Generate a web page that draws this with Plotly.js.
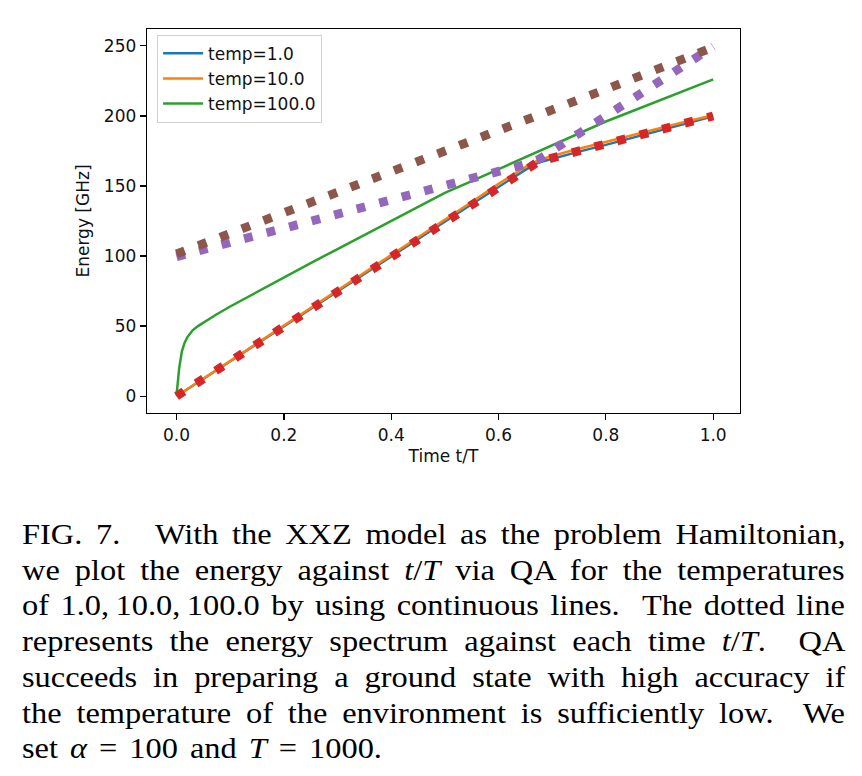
<!DOCTYPE html>
<html>
<head>
<meta charset="utf-8">
<script src="https://cdn.plot.ly/plotly-3.0.1.min.js"></script>
<style>
  html, body { margin: 0; padding: 0; background: #fff; }
  #wrap { position: relative; width: 862px; height: 776px; overflow: hidden; }
  #chart { position: absolute; left: 0; top: 0; width: 862px; height: 776px; }
  #caption { position: absolute; left: 22px; top: 516px; width: 762px;
    transform: scaleX(1.08); transform-origin: left top;
    font-family: "Liberation Serif", "DejaVu Serif", serif; font-size: 30px; line-height: 35.7px; color: #000; }
  #caption .ln { white-space: nowrap; }
  #caption .t { display: inline-block; white-space: nowrap; }
  #caption i { font-style: italic; }
</style>
</head>
<body>
<div id="wrap">
  <div id="chart"></div>
  <div id="caption">
    <div class="ln"><span class="t" data-w="823">FIG. 7.<span style="display:inline-block;width:20px"></span> With the XXZ model as the problem Hamiltonian,</span></div>
    <div class="ln"><span class="t" data-w="823">we plot the energy against <i>t</i>/<i>T</i> via QA for the temperatures</span></div>
    <div class="ln"><span class="t" data-w="823">of 1.0,&thinsp;10.0,&thinsp;100.0 by using continuous lines.&nbsp; The dotted line</span></div>
    <div class="ln"><span class="t" data-w="823">represents the energy spectrum against each time <i>t</i>/<i>T</i>.&nbsp; QA</span></div>
    <div class="ln"><span class="t" data-w="823">succeeds in preparing a ground state with high accuracy if</span></div>
    <div class="ln"><span class="t" data-w="823">the temperature of the environment is sufficiently low.&nbsp; We</span></div>
    <div class="ln"><span class="t" data-w="360">set <i>α</i> = 100 and <i>T</i> = 1000.</span></div>
  </div>
</div>
<script>
// ---- data ----
const tSolid = [0,0.05,0.1,0.15,0.2,0.25,0.3,0.35,0.4,0.45,0.5,0.55,0.6,0.625,0.65,0.675,0.7,0.725,0.75,0.8,0.85,0.9,0.95,1.0];
const temp1 = [0,12.5,25,37.5,50,62.5,75,87.5,100,112.5,125,137,149.3,155.3,161.5,166.8,169.5,172,174.5,179.3,184.3,189.4,194.6,199.7];
const temp10 = [0,12.6,25.2,37.8,50.3,62.9,75.4,88,100.5,113,125.6,138.5,151.5,157.5,163.5,168.5,171.5,174,176.5,181.5,186.5,191.5,196,200.5];
const tGreen = [0,0.005,0.01,0.015,0.02,0.03,0.04,0.05,0.075,0.1,0.15,0.2,0.25,0.3,0.35,0.4,0.45,0.5,0.55,0.6,0.65,0.7,0.75,0.8,0.85,0.9,0.95,1.0];
const temp100 = [0.5,20,32,38,42,47,50,52.5,58.5,64,74.5,84.5,95,105,115,125,135,145,153.5,162,171,179.5,188,196,203.5,211,218.5,226];
const ground = [0,12.5,25,37.5,50,62.5,75,87.5,100,112.5,125,137.5,150,156,162.5,167.5,170,172.5,175,180,185,190,195,200];
const tExc1 = [0,0.05,0.1,0.15,0.2,0.25,0.3,0.35,0.4,0.45,0.5,0.55,0.6,0.65,0.675,0.7,0.725,0.75,0.8,0.85,0.9,0.95,1.0];
const excited1 = [99.5,104.5,110,115,120,125.5,130.5,135.5,140.5,145.5,150.5,155.5,160.5,165.5,169,176,181.5,187.5,199.5,212,224.5,237,249.5];
const tExc2 = [0,0.1,0.2,0.3,0.4,0.5,0.6,0.7,0.8,0.9,1.0];
const excited2 = [101.5,116,131,145.5,160.5,175,190,204.5,219,234,249];
const legendNames = ['temp=1.0','temp=10.0','temp=100.0'];
const xTicks = [0,0.2,0.4,0.6,0.8,1.0];
const yTicks = [0,50,100,150,200,250];

const C = {blue:'#1f77b4', orange:'#ff7f0e', green:'#2ca02c', red:'#d62728', purple:'#9467bd', brown:'#8c564b'};
const solidW = 2.5, dotW = 8.8, dotDash = '8.8px,14.5px';
const FONT = 'DejaVu Sans', FS = 17;

const traces = [
  {x:tSolid, y:temp1, name:legendNames[0], mode:'lines', line:{color:C.blue, width:solidW}},
  {x:tSolid, y:temp10, name:legendNames[1], mode:'lines', line:{color:C.orange, width:solidW}},
  {x:tGreen, y:temp100, name:legendNames[2], mode:'lines', line:{color:C.green, width:solidW}},
  {x:tSolid, y:ground, mode:'lines', showlegend:false, line:{color:C.red, width:dotW, dash:dotDash}},
  {x:tExc1, y:excited1, mode:'lines', showlegend:false, line:{color:C.purple, width:dotW, dash:dotDash}},
  {x:tExc2, y:excited2, mode:'lines', showlegend:false, line:{color:C.brown, width:dotW, dash:dotDash}}
];

const axisCommon = {showline:true, mirror:true, linecolor:'#000', linewidth:1.3, ticks:'outside', ticklen:6, tickwidth:1.3,
  tickcolor:'#000', showgrid:false, zeroline:false, tickfont:{family:FONT, size:FS, color:'#111'}};

const layout = {
  width:862, height:776,
  margin:{l:147, r:122, t:29, b:363},
  paper_bgcolor:'#fff', plot_bgcolor:'#fff',
  font:{family:FONT, size:FS, color:'#111'},
  showlegend:true,
  legend:{x:0.017, y:0.985, xanchor:'left', yanchor:'top', bgcolor:'#fff', bordercolor:'#d0d0d0', borderwidth:1,
    font:{family:FONT, size:FS, color:'#111'}, itemwidth:40, traceorder:'normal'},
  xaxis:Object.assign({}, axisCommon, {range:[-0.055,1.05], tickvals:xTicks, tickformat:'.1f',
    title:{text:'Time t/T', font:{family:FONT, size:FS, color:'#111'}, standoff:6}}),
  yaxis:Object.assign({}, axisCommon, {range:[-12,262], tickvals:yTicks,
    title:{text:'Energy [GHz]', font:{family:FONT, size:FS, color:'#111'}, standoff:10}})
};

Plotly.newPlot('chart', traces, layout, {displayModeBar:false, staticPlot:true});

// justify each caption line to its target width (in screen px) by adjusting word spacing
const SCALE = 1.08;
function justifyCaption() {
  document.querySelectorAll('#caption .t').forEach(function (el) {
    el.style.wordSpacing = '0px';
    const target = parseFloat(el.getAttribute('data-w')) / SCALE;
    const w = el.offsetWidth;
    const n = (el.textContent.match(/[ \u00a0]/g) || []).length;
    if (n > 0) el.style.wordSpacing = ((target - w) / n) + 'px';
  });
}
justifyCaption();
if (document.fonts && document.fonts.ready) document.fonts.ready.then(justifyCaption);
</script>
</body>
</html>
